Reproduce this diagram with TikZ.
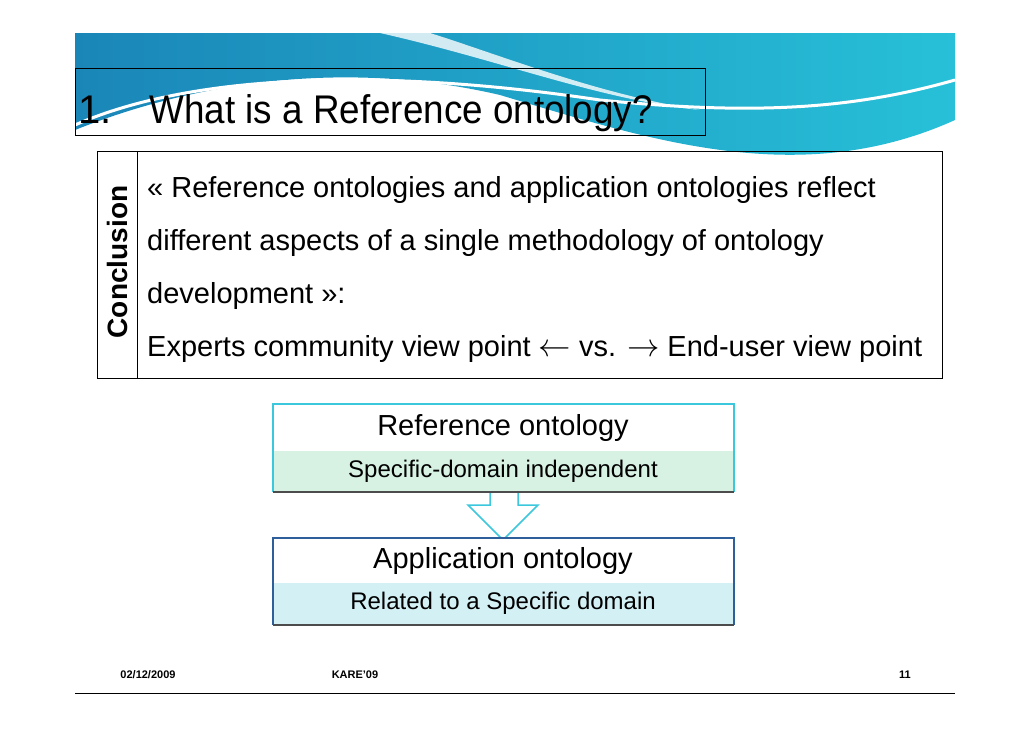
\documentclass[tikz,border=0pt]{standalone}
\usepackage{fontspec}
\setmainfont{Liberation Sans}
\usetikzlibrary{calc}
\definecolor{band1}{HTML}{1A86B8}
\definecolor{band2}{HTML}{27C0D8}
\definecolor{strip1}{HTML}{D7F1E3}
\definecolor{strip2}{HTML}{D3F1F5}
\definecolor{cyanb}{HTML}{3CC8DC}
\definecolor{darkb}{HTML}{2F5F9A}
\tikzset{
  body/.style={anchor=west,font=\fontsize{29}{33}\selectfont,inner sep=0pt},
  foot/.style={font=\bfseries\fontsize{11}{13}\selectfont,inner sep=0pt},
  boxtitle/.style={font=\fontsize{29}{33}\selectfont},
  boxsub/.style={font=\fontsize{24}{28}\selectfont}
}
\begin{document}
\begin{tikzpicture}[x=1pt,y=-1pt]
\useasboundingbox (0,0) rectangle (1030,728);
% banner
\shade[left color=band1,right color=band2] (75,33) -- (955,33) -- (955,120) .. controls (800,190) and (650,140) .. (500,95) .. controls (350,60) and (200,80) .. (75,130) -- cycle;
\fill[white,opacity=0.8] (380,33) .. controls (500,60) and (600,100) .. (700,110) .. controls (600,95) and (500,55) .. (430,33) -- cycle;
\draw[white,line width=3pt] (75,125) .. controls (200,70) and (400,70) .. (600,100) .. controls (750,115) and (850,110) .. (955,80);
% title
\node[draw,thick,minimum width=630,minimum height=67,anchor=north west,inner sep=0pt] (title) at (75,68) {};
\node[anchor=west,font=\fontsize{40}{44}\selectfont,inner sep=0pt] (tt) at (78,113) {1.\hspace{38pt}\scalebox{0.92}[1]{What is a Reference ontology?}};
% conclusion
\node[draw,minimum width=845,minimum height=227,anchor=north west,inner sep=0pt] (conc) at (97,151) {};
\draw (137,151) -- (137,378);
\node[rotate=90,font=\bfseries\fontsize{28}{30}\selectfont,inner sep=0pt] (cl) at (117,262) {Conclusion};
\node[body] (l1) at (147,190) {« Reference ontologies and application ontologies reflect};
\node[body] (l2) at (147,243) {different aspects of a single methodology of ontology};
\node[body] (l3) at (147,296) {development »:};
\node[body] (l4) at (147,349) {Experts community view point \scalebox{1.3}{$\leftarrow$} vs. \scalebox{1.3}{$\rightarrow$} End-user view point};
% reference box
\fill[white] (273,404) rectangle (734,492);
\fill[strip1] (273,451) rectangle (734,492);
\draw[cyanb,line width=1.5pt] (734,492) -- (734,404) -- (273,404) -- (273,492);
\draw[black!70,line width=2pt] (273,492) -- (734,492);
\node[boxtitle] (rt) at (503,428) {Reference ontology};
\node[boxsub] (rs) at (503,471) {Specific-domain independent};
% arrow
\draw[cyanb,line width=1.5pt,fill=white] (490,493) -- (490,505) -- (468,505) -- (503,540) -- (538,505) -- (518,505) -- (518,493);
% application box
\fill[white] (273,538) rectangle (734,625);
\fill[strip2] (273,583) rectangle (734,625);
\draw[darkb,line width=1.5pt] (734,625) -- (734,538) -- (273,538) -- (273,625);
\draw[black!70,line width=2pt] (273,625) -- (734,625);
\node[boxtitle] (at) at (503,561) {Application ontology};
\node[boxsub] (as) at (503,603) {Related to a Specific domain};
% footer
\draw[line width=1pt] (75,693) -- (955,693);
\node[foot] (d) at (148,675) {02/12/2009};
\node[foot] (k) at (355,675) {KARE'09};
\node[foot] (n) at (905,675) {11};
\end{tikzpicture}
\end{document}
